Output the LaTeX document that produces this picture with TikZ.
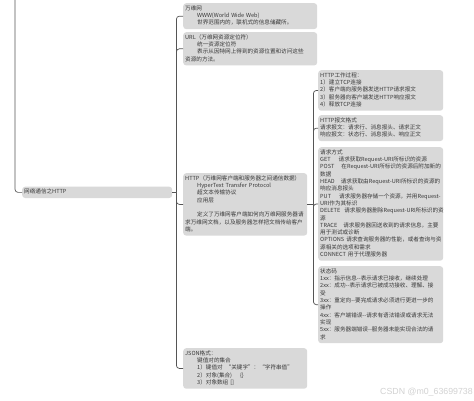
\documentclass[tikz,border=0pt]{standalone}
\usepackage{fontspec}
\newfontfamily\cjk{Noto Sans CJK SC}
\newfontfamily\wmfont{Liberation Sans}

\definecolor{boxgray}{HTML}{D9D9D9}
\definecolor{txtgray}{HTML}{383838}
\definecolor{linegray}{HTML}{555555}
\definecolor{markgray}{HTML}{D2D2D2}

\tikzset{
  topic/.style={fill=boxgray, rounded corners=3pt, anchor=north west, align=left,
    inner xsep=2pt, inner ysep=2pt, text=txtgray,
    font=\cjk\fontsize{5.6}{7.3}\selectfont,
    execute at begin node=\strut, execute at end node=\strut},
  link/.style={draw=linegray, line width=0.7pt, rounded corners=3pt},
  wmark/.style={text=markgray, font=\wmfont\fontsize{8.8}{10}\selectfont, inner sep=0pt},
}
\newcommand{\ind}{\hspace*{12pt}}
\newcommand{\ruri}{\mbox{Request-URI}}

\begin{document}
\begin{tikzpicture}[x=1pt,y=-1pt]

\fill[white] (0,0) rectangle (474,400);
\useasboundingbox (0,0) rectangle (474,400);

\node[topic, text width=146pt] (root) at (22,186.5) {网络通信之HTTP};

\node[topic, text width=130pt] (www) at (183,3)
  {万维网\\ \ind WWW(World Wide Web)\\ \ind 世界范围内的，联机式的信息储藏所。};

\node[topic, text width=130pt] (url) at (183,32)
  {URL（万维网资源定位符）\\ \ind 统一资源定位符\\
   \ind 表示从因特网上得到的资源位置和访问这些\\ 资源的方法。};

\node[topic, text width=120pt] (http) at (183,173)
  {HTTP（万维网客户端和服务器之间通信数据）\\ \ind HyperText\kern2pt Transfer\kern2pt Protocol\\
   \ind 超文本传输协议\\ \ind 应用层\\[7.3pt]
   \ind 定义了万维网客户端如何向万维网服务器请\\
   求万维网文档，以及服务器怎样把文档传给客户\\ 端。};

\node[topic, text width=120pt] (json) at (183,348)
  {JSON格式：\\ \ind 键值对的集合\\ \ind 1）键值对\kern3pt“关键字”：“字符串值”\\
   \ind 2）对象(集合)\kern8pt\{\}\\ \ind 3）对象数组\kern2pt[]};

\node[topic, text width=121pt] (flow) at (318,70)
  {HTTP工作过程：\\ 1）建立TCP连接\\ 2）客户端向服务器发送HTTP请求报文\\
   3）服务器向客户端发送HTTP响应报文\\ 4）释放TCP连接};

\node[topic, text width=121pt] (msg) at (318,115)
  {HTTP报文格式\\ 请求报文：请求行、消息报头、请求正文\\ 响应报文：状态行、消息报头、响应正文};

\node[topic, text width=121pt] (method) at (318,147)
  {请求方式\\
   GET\kern8pt 请求获取\ruri 所标识的资源\\
   POST\kern7pt 在\ruri 所标识的资源后附加新的\\ 数据\\
   HEAD\kern6pt 请求获取由\ruri 所标识的资源的\\ 响应消息报头\\
   PUT\kern8pt 请求服务器存储一个资源，并用\mbox{Request-}\\ URI作为其标识\\
   DELETE\kern4pt 请求服务器删除\ruri 所标识的资\\ 源\\
   TRACE\kern6pt 请求服务器回送收到的请求信息，主要\\ 用于测试或诊断\\
   OPTIONS\kern2pt 请求查询服务器的性能，或者查询与资\\ 源相关的选项和需求\\
   CONNECT\kern2pt 用于代理服务器};

\node[topic, text width=121pt] (status) at (318,266)
  {状态码\\ 1xx：指示信息--表示请求已接收，继续处理\\
   2xx：成功--表示请求已被成功接收、理解、接\\ 受\\
   3xx：重定向--要完成请求必须进行更进一步的\\ 操作\\
   4xx：客户端错误--请求有语法错误或请求无法\\ 实现\\
   5xx：服务器端错误--服务器未能实现合法的请\\ 求};

\node[wmark, anchor=east] (wm) at (473,392) {CSDN @m0\_63699738};

% branches
\coordinate (up) at (15,0);
\draw[link] (up) |- (root.west);

\coordinate (rootfork) at ([xshift=4pt]root.east);
\draw[link] (root.east) -- (rootfork);
\draw[link] (rootfork) |- (www.west);
\draw[link] (rootfork) |- (url.west);
\draw[link] (rootfork) |- (http.west);
\draw[link] (rootfork) |- (json.west);

\coordinate (httpfork) at ([xshift=6pt]http.east);
\draw[link] (http.east) -- (httpfork);
\draw[link] (httpfork) |- (flow.west);
\draw[link] (httpfork) |- (msg.west);
\draw[link] (httpfork) |- (method.west);
\draw[link] (httpfork) |- (status.west);

\end{tikzpicture}
\end{document}
